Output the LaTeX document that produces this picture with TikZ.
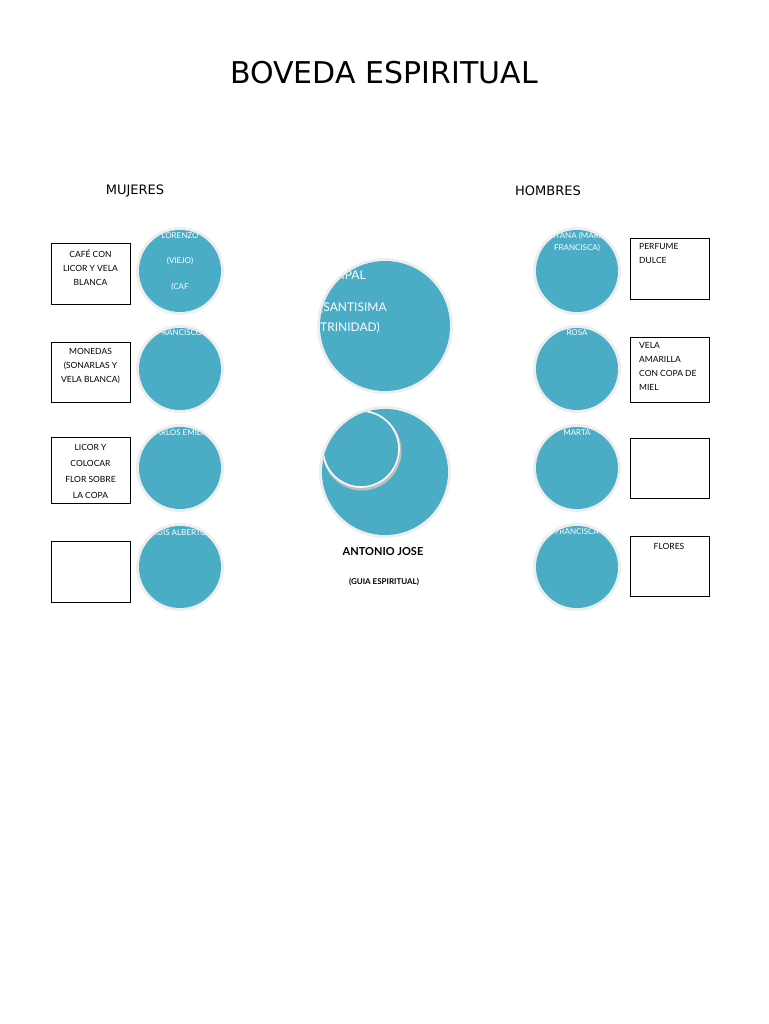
\documentclass[tikz,border=0pt]{standalone}
\usepackage{fontspec}
\setmainfont{Lato}
\newfontfamily\djfont{DejaVu Sans}
\begin{document}
\begin{tikzpicture}[x=1pt,y=-1pt,
 lbl/.style={font=\fontsize{8}{9}\selectfont,text=white,inner sep=0},
 boxt/.style={font=\fontsize{8.5}{14}\selectfont,inner sep=0,align=center},
 bx/.style={draw=black,line width=0.8pt}]
\useasboundingbox (0,0) rectangle (768,1024);
\definecolor{cb}{HTML}{4BACC6}
\definecolor{rim}{HTML}{EEEEEE}
\node[font=\djfont\fontsize{30}{30}\selectfont] (title) at (384,73) {BOVEDA ESPIRITUAL};
\node[font=\djfont\fontsize{13}{13}\selectfont] (muj) at (135,191) {MUJERES};
\node[font=\djfont\fontsize{13}{13}\selectfont] (hom) at (548,191) {HOMBRES};
% small circles
\foreach \cx/\cy/\n in {180/271/l1,180/369/l2,180/468/l3,180/567/l4,577/271/r1,577/369/r2,577/468/r3,577/567/r4}{
  \fill[rim] (\cx,\cy) circle (44);
  \fill[cb] (\cx,\cy) circle (41);
}
\coordinate (l1) at (180,271);\coordinate (l2) at (180,369);\coordinate (l3) at (180,468);\coordinate (l4) at (180,567);
\coordinate (r1) at (577,271);\coordinate (r2) at (577,369);\coordinate (r3) at (577,468);\coordinate (r4) at (577,567);
\begin{scope}\clip (l1) circle (41);
 \node[lbl] (t1) at (180,236) {LORENZO};
 \node[lbl] (t2) at (180,261) {(VIEJO)};
 \node[lbl] (t3) at (180,287) {(CAF};
\end{scope}
\begin{scope}\clip (l2) circle (41); \node[lbl] (t4) at (180,333) {FRANCISCO};\end{scope}
\begin{scope}\clip (l3) circle (41); \node[lbl] (t5) at (180,433) {CARLOS EMILIO};\end{scope}
\begin{scope}\clip (l4) circle (41); \node[lbl] (t6) at (180,533) {LUIS ALBERTO};\end{scope}
\begin{scope}\clip (r1) circle (41);
 \node[lbl] (t7) at (577,236) {GITANA (MARIA};
 \node[lbl] (t8) at (577,248) {FRANCISCA)};
\end{scope}
\begin{scope}\clip (r2) circle (41); \node[lbl] (t9) at (577,333) {ROSA};\end{scope}
\begin{scope}\clip (r3) circle (41); \node[lbl] (t10) at (577,433) {MARTA};\end{scope}
\begin{scope}\clip (r4) circle (41); \node[lbl] (t11) at (577,532) {FRANCISCA};\end{scope}
% big circles
\fill[rim] (385,326) circle (68);
\fill[cb] (385,326) circle (65);
\coordinate (bc) at (385,326);
\begin{scope}\clip (bc) circle (65);
 \node[lbl,font=\fontsize{12}{12}\selectfont,anchor=west] (p1) at (306,275) {PRINCIPAL};
 \node[lbl,font=\fontsize{12}{12}\selectfont,anchor=west] (p2) at (320,308) {(SANTISIMA};
 \node[lbl,font=\fontsize{12}{12}\selectfont,anchor=west] (p3) at (320,328) {TRINIDAD)};
\end{scope}
\fill[rim] (385,472) circle (66);
\fill[cb] (385,472) circle (63);
\coordinate (bc2) at (385,472);
\begin{scope}\clip (bc2) circle (63);
 \fill[black!25] (362,451) circle (39.5);
 \fill[cb] (361,449) circle (38);
 \draw[white,line width=1.6pt] (361,449) circle (38);
\end{scope}
\node[font=\bfseries\fontsize{11}{11}\selectfont] (aj) at (383,552) {ANTONIO JOSE};
\node[font=\bfseries\fontsize{8}{8}\selectfont] (gu) at (384,582) {(GUIA ESPIRITUAL)};
% boxes left
\draw[bx] (51,243) rectangle (130,304);
\node[boxt] (b1) at (90.5,268) {CAFÉ CON\\LICOR Y VELA\\BLANCA};
\draw[bx] (51,342) rectangle (130,402);
\node[boxt] (b2) at (90.5,366) {MONEDAS\\(SONARLAS Y\\VELA BLANCA)};
\draw[bx] (51,437) rectangle (130,503);
\node[boxt,font=\fontsize{8.5}{16}\selectfont] (b3) at (90.5,471) {LICOR Y\\COLOCAR\\FLOR SOBRE\\LA COPA};
\draw[bx] (51,541) rectangle (130,602);
% boxes right
\draw[bx] (630,238) rectangle (709,299);
\node[boxt,align=left,anchor=north west] (b4) at (639,243) {PERFUME\\DULCE};
\draw[bx] (630,337) rectangle (709,402);
\node[boxt,align=left,anchor=north west] (b5) at (639,342) {VELA\\AMARILLA\\CON COPA DE\\MIEL};
\draw[bx] (630,438) rectangle (709,498);
\draw[bx] (630,536) rectangle (709,596);
\node[boxt] (b6) at (669,546) {FLORES};
\end{tikzpicture}
\end{document}
